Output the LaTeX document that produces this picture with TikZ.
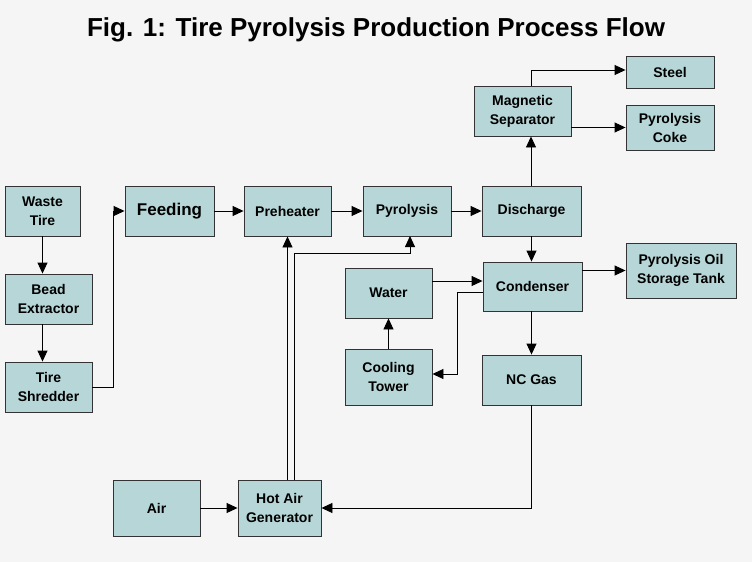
\documentclass[tikz,border=0pt]{standalone}
\usepackage{fontspec}
\setmainfont{Liberation Sans}
\usetikzlibrary{arrows.meta}
\definecolor{boxc}{HTML}{B7D6D7}
\definecolor{bgc}{HTML}{F5F5F5}
\begin{document}
\begin{tikzpicture}[x=1pt,y=-1pt,
  box/.style={draw=black!80,line width=0.9pt,fill=boxc,align=center,font=\bfseries\fontsize{14}{19}\selectfont,inner sep=0pt},
  ar/.style={draw=black,line width=0.9pt,-{Triangle[length=11pt,width=10pt]}},
  ln/.style={draw=black,line width=0.9pt}]
\fill[bgc] (0,0) rectangle (752,562);
\useasboundingbox (0,0) rectangle (752,562);
\node[font=\bfseries\fontsize{26}{30}\selectfont] (title) at (376,30) {Fig. 1: Tire Pyrolysis Production Process Flow};
\newcommand{\bx}[6]{\node[box,minimum width=#4-#2,minimum height=#5-#3] (#1) at ({(#2+#4)/2},{(#3+#5)/2}) {#6};}
\bx{waste}{5}{186}{80}{236}{Waste\\Tire}
\bx{bead}{5}{274}{92}{324}{Bead\\Extractor}
\bx{shred}{5}{362}{92}{412}{Tire\\Shredder}
\node[box,minimum width=89,minimum height=50,font=\bfseries\fontsize{17}{20}\selectfont] (feed) at (169.5,211) {Feeding};
\bx{pre}{244}{186}{331}{236}{Preheater}
\bx{pyro}{363}{186}{451}{236}{Pyrolysis}
\bx{dis}{482}{186}{581}{236}{Discharge}
\bx{mag}{474}{86}{571}{136}{Magnetic\\Separator}
\bx{steel}{626}{56}{714}{88}{Steel}
\bx{coke}{626}{105}{714}{150}{Pyrolysis\\Coke}
\bx{cond}{483}{262}{582}{311}{Condenser}
\bx{oil}{626}{243}{736}{298}{Pyrolysis Oil\\Storage Tank}
\bx{water}{345}{268}{432}{318}{Water}
\bx{cool}{345}{349}{432}{405}{Cooling\\Tower}
\bx{nc}{482}{355}{581}{405}{NC Gas}
\bx{air}{113}{480}{200}{536}{Air}
\bx{hag}{238}{480}{321}{536}{Hot Air\\Generator}
\draw[ar] (waste.south) -- (waste.south |- bead.north);
\draw[ar] (bead.south -| waste.south) -- (shred.north -| waste.south);
\draw[ar] (shred.east) -- ++(21,0) |- (feed.west);
\draw[ar] (feed) -- (pre);
\draw[ar] (pre) -- (pyro);
\draw[ar] (pyro) -- (dis);
\draw[ar] (dis.north -| 531,0) -- (mag.south -| 531,0);
\draw[ar] (mag.north -| 531,0) -- (531,70) -- (steel.west |- 0,70);
\draw[ar] (mag.east |- coke.west) -- (coke.west);
\draw[ar] (dis.south) -- (cond.north -| dis.south);
\draw[ar] (cond.east |- oil.west) -- (oil.west);
\draw[ar] (cond.south -| nc.north) -- (nc.north);
\draw[ar] (nc.south) |- (hag.east);
\draw[ar] (air) -- (hag);
\draw[ar] (hag.north -| pre.south) -- (pre.south);
\coordinate (h2) at (294,480);
\draw[ar] (h2) -- (294,253) -| (410,236);
\draw[ar] (water.east |- 0,281) -- (cond.west |- 0,281);
\draw[ar] (cond.west |- 0,292) -- (457,292) |- (cool.east |- 0,374);
\draw[ar] (cool) -- (water);
\end{tikzpicture}
\end{document}
